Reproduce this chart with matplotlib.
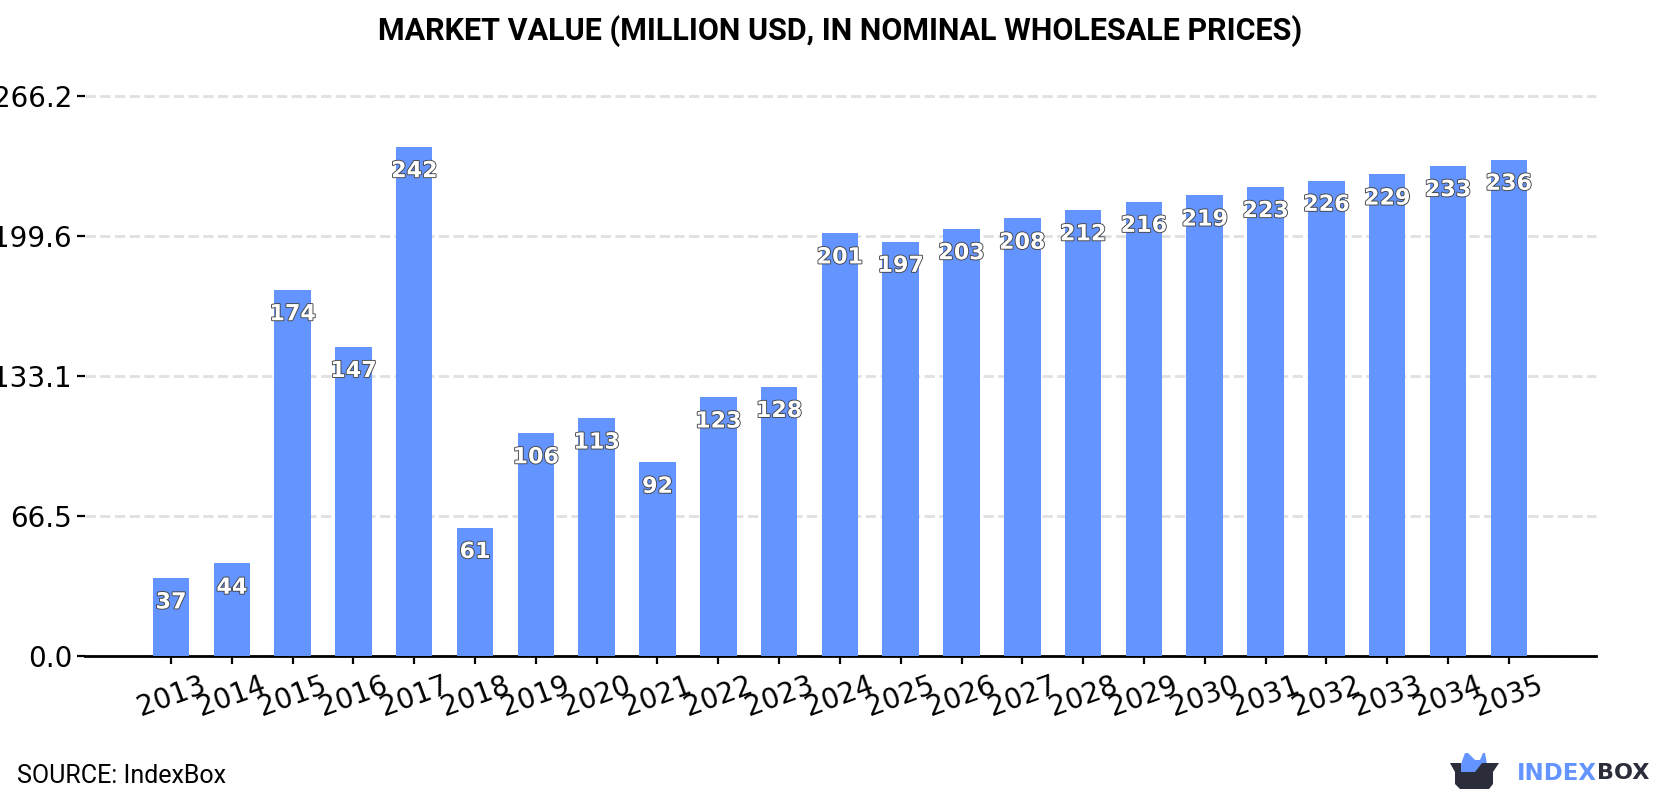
import matplotlib
matplotlib.use('Agg')
import matplotlib.pyplot as plt
import matplotlib.patheffects as pe
from matplotlib.patches import Polygon

years = [2013, 2014, 2015, 2016, 2017, 2018, 2019, 2020, 2021, 2022, 2023, 2024,
         2025, 2026, 2027, 2028, 2029, 2030, 2031, 2032, 2033, 2034, 2035]
values = [37, 44, 174, 147, 242, 61, 106, 113, 92, 123, 128, 201,
          197, 203, 208, 212, 216, 219, 223, 226, 229, 233, 236]
y_ticks = [0.0, 66.5, 133.1, 199.6, 266.2]

W, H = 1680, 800
BLUE = '#6394ff'
DARK = '#2b2d3a'

fig = plt.figure(figsize=(W / 100, H / 100), dpi=100, facecolor='white')
ax = fig.add_axes([85 / W, 1 - 656 / H, (1596 - 85) / W, (656 - 96) / H])

xpos = list(range(len(years)))
ax.bar(xpos, values, width=0.6, color=BLUE, zorder=3)
ax.set_xlim(-1.415, 23.435)
ax.set_ylim(0, 266.2)

for spine in ['top', 'left', 'right']:
    ax.spines[spine].set_visible(False)
ax.spines['bottom'].set_linewidth(2)

ax.set_yticks(y_ticks)
ax.set_yticklabels(['%.1f' % t for t in y_ticks], fontsize=20, family='DejaVu Sans')
ax.set_xticks(xpos)
ax.set_xticklabels(years, fontsize=20, rotation=20, family='DejaVu Sans')
ax.tick_params(axis='both', length=5.8, width=1.6, color='black')
ax.tick_params(axis='y', pad=3.5)
ax.tick_params(axis='x', pad=5)
ax.yaxis.grid(True, color='#e0e0e0', linestyle='--', linewidth=2, zorder=0, clip_on=False)
ax.set_axisbelow(True)

# value labels sit just under the top of each bar
for x, v in zip(xpos, values):
    ax.annotate(str(v), (x, v), xytext=(0, -17.5), textcoords='offset points',
                ha='center', va='center', fontsize=16, fontweight='bold',
                family='DejaVu Sans', color='white', zorder=5,
                path_effects=[pe.withStroke(linewidth=1.3, foreground='#444444')])

fig.text(840 / W, 1 - 31 / H, 'MARKET VALUE (MILLION USD, IN NOMINAL WHOLESALE PRICES)',
         ha='center', va='center', fontsize=22, fontweight='bold', family='Roboto', color='black')
fig.text(17 / W, 1 - 776 / H, 'SOURCE: IndexBox', ha='left', va='center',
         fontsize=18, family='Roboto', color='black')

# logo drawn in pixel coordinates on an overlay axes
logo = fig.add_axes([0, 0, 1, 1], facecolor='none')
logo.set_xlim(0, W)
logo.set_ylim(H, 0)
logo.axis('off')
logo.add_patch(Polygon([(1461, 764), (1465, 753), (1468, 753), (1475, 760), (1480, 760),
                        (1483, 753), (1485, 753), (1487, 764), (1487, 773), (1461, 773)],
                       closed=True, color=BLUE, lw=0))
logo.add_patch(Polygon([(1450, 763), (1461, 763), (1461, 772), (1475, 772), (1482, 763),
                        (1499, 763), (1493, 772), (1493, 784), (1489, 789), (1460, 789),
                        (1455, 784), (1455, 772)],
                       closed=True, color=DARK, lw=0))
logo.text(1517, 773, 'INDEX', ha='left', va='center', fontsize=16.5,
          fontweight='bold', family='DejaVu Sans', color=BLUE)
logo.text(1597, 773, 'BOX', ha='left', va='center', fontsize=16,
          fontweight='bold', family='DejaVu Sans', color=DARK)

fig.savefig('out.png', dpi=100)
